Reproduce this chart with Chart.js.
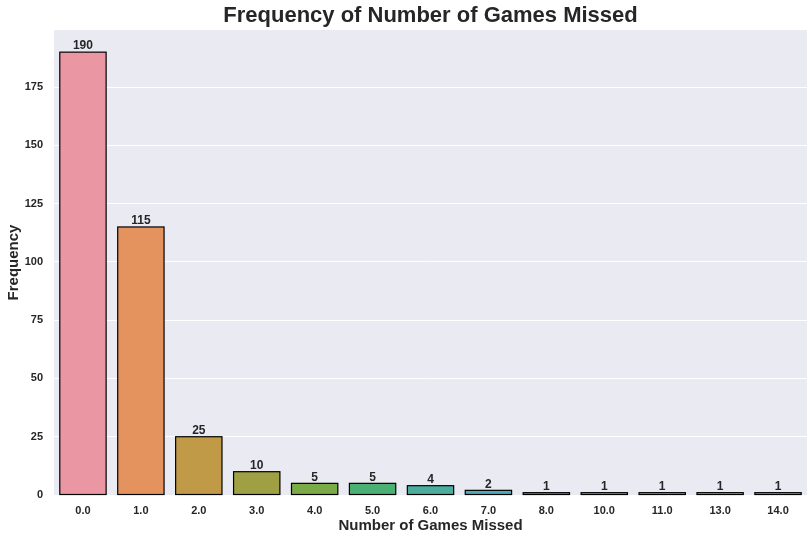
<!DOCTYPE html>
<html>
<head>
<meta charset="utf-8">
<script src="https://cdn.jsdelivr.net/npm/chart.js@4"></script>
<style>
  html, body { margin: 0; padding: 0; background: #fff; }
  #wrap { width: 811px; height: 540px; }
</style>
</head>
<body>
<div id="wrap"><canvas id="myChart"></canvas></div>
<script>
'use strict';

const gamesMissed = ['0.0', '1.0', '2.0', '3.0', '4.0', '5.0', '6.0', '7.0', '8.0', '10.0', '11.0', '13.0', '14.0'];
const frequency = [190, 115, 25, 10, 5, 5, 4, 2, 1, 1, 1, 1, 1];
const barColors = ['#EA96A3', '#E4935F', '#C19A47', '#9FA043', '#7BAB47', '#4AB074', '#4BAD9E', '#4DAAB7',
                   '#55ADCF', '#8FB1EA', '#B9A6EE', '#E59BE6', '#EB97B9'];
const yTicks = [0, 25, 50, 75, 100, 125, 150, 175];
const chartTitle = 'Frequency of Number of Games Missed';

const FONT = "'Liberation Sans', Arial, sans-serif";
const TEXT = '#262626';

// grey plot background like seaborn darkgrid
const plotBackground = {
  id: 'plotBackground',
  beforeDraw: (chart) => {
    const { ctx, chartArea } = chart;
    ctx.save();
    ctx.fillStyle = '#EAEAF2';
    ctx.fillRect(chartArea.left, chartArea.top, chartArea.right - chartArea.left, chartArea.bottom - chartArea.top);
    ctx.restore();
  }
};

// black edges centred on the bar outline (matplotlib style), then value labels
const barLabels = {
  id: 'barLabels',
  afterDatasetsDraw: (chart) => {
    const { ctx } = chart;
    const meta = chart.getDatasetMeta(0);
    ctx.save();
    ctx.strokeStyle = '#000000';
    ctx.lineWidth = 1.2;
    meta.data.forEach((bar) => {
      const w = bar.width;
      ctx.strokeRect(bar.x - w / 2, bar.y, w, bar.base - bar.y);
    });
    ctx.font = 'bold 12px ' + FONT;
    ctx.fillStyle = TEXT;
    ctx.textAlign = 'center';
    ctx.textBaseline = 'bottom';
    meta.data.forEach((bar, i) => {
      ctx.fillText(String(frequency[i]), bar.x, bar.y);
    });
    // title centred over the plot area
    const area = chart.chartArea;
    ctx.font = 'bold 22px ' + FONT;
    ctx.textBaseline = 'middle';
    ctx.fillText(chartTitle, (area.left + area.right) / 2, 16);
    ctx.restore();
  }
};

const ctx = document.getElementById('myChart').getContext('2d');

const myChart = new Chart(ctx, {
  type: 'bar',
  data: {
    labels: gamesMissed,
    datasets: [{
      data: frequency,
      backgroundColor: barColors,
      borderWidth: 0,
      categoryPercentage: 1.0,
      barPercentage: 0.8
    }]
  },
  options: {
    responsive: true,
    maintainAspectRatio: false,
    animation: false,
    layout: { padding: { left: 0, right: 4, top: 30, bottom: 0 } },
    plugins: {
      legend: { display: false },
      tooltip: { enabled: false },
      title: { display: false }
    },
    scales: {
      x: {
        grid: { display: false, drawTicks: false },
        border: { display: false },
        ticks: { color: TEXT, padding: 9, font: { family: FONT, size: 11, weight: 'bold' } },
        title: {
          display: true,
          text: 'Number of Games Missed',
          color: TEXT,
          font: { family: FONT, size: 15, weight: 'bold' },
          padding: { top: 0, bottom: 5 }
        },
        afterFit: (scale) => { scale.height = 45; }
      },
      y: {
        min: 0,
        max: 199.5,
        afterBuildTicks: (scale) => { scale.ticks = yTicks.map(v => ({ value: v })); },
        grid: { color: '#FFFFFF', lineWidth: 1, drawTicks: false },
        border: { display: false },
        ticks: { color: TEXT, padding: 11, font: { family: FONT, size: 11, weight: 'bold' } },
        title: {
          display: true,
          text: 'Frequency',
          color: TEXT,
          font: { family: FONT, size: 15, weight: 'bold' },
          padding: { top: 5, bottom: 0 }
        },
        afterFit: (scale) => { scale.width = 54; }
      }
    }
  },
  plugins: [plotBackground, barLabels]
});
</script>
</body>
</html>
